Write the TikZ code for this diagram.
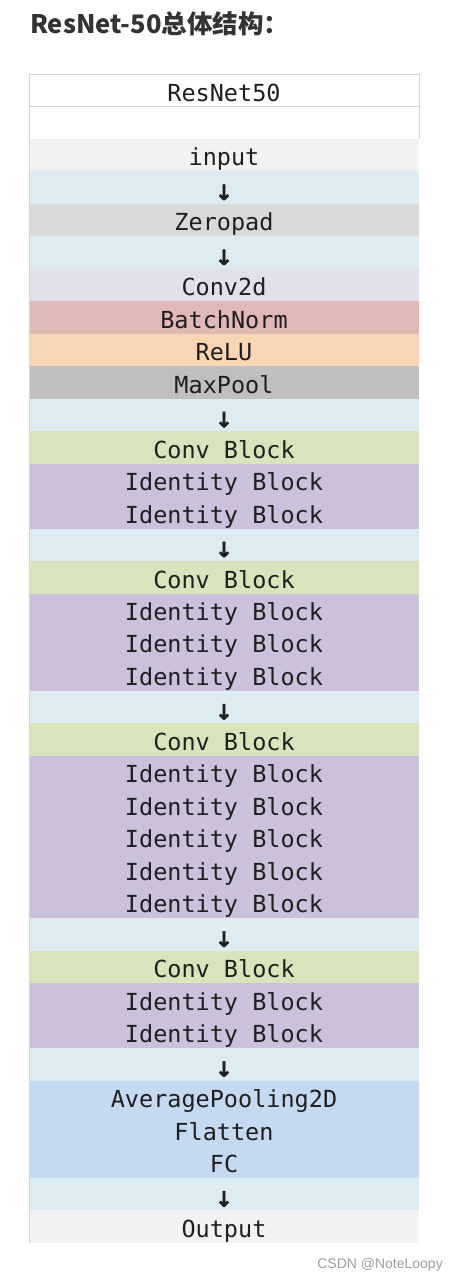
\documentclass[tikz,border=0pt]{standalone}
\usepackage{fontspec}
\setmonofont{DejaVu Sans Mono}
\newfontfamily\titlefont{Noto Sans CJK SC}
\newfontfamily\markfont{Liberation Sans}
\newfontface\arrowfont{DejaVu Sans Bold}[FakeBold=2.5]
\definecolor{cgrid}{HTML}{D4D4D4}
\definecolor{cinput}{HTML}{F2F2F2}
\definecolor{carrow}{HTML}{DDEBF3}
\definecolor{czero}{HTML}{D9D9D9}
\definecolor{cconv}{HTML}{E4DFEC}
\definecolor{cbn}{HTML}{E2B8B6}
\definecolor{crelu}{HTML}{F9D5B4}
\definecolor{cpool}{HTML}{BFBFBF}
\definecolor{cblock}{HTML}{D8E4BC}
\definecolor{cident}{HTML}{CCC0DA}
\definecolor{chead}{HTML}{C5D9F1}
\newcommand{\dn}{{\arrowfont\fontsize{21}{21}\selectfont\raisebox{-1.5pt}{↓}}}
\begin{document}
\begin{tikzpicture}[x=1pt,y=-1pt,font=\ttfamily\fontsize{23.5}{23.5}\selectfont,
    cell/.style={anchor=north west,minimum width=390pt,minimum height=32.47pt,
      inner sep=0pt,outer sep=0pt,text height=27pt,text depth=5.47pt,text=black!88}]
    \useasboundingbox (0,0) rectangle (459,1280);
    \node[anchor=base west,inner sep=0pt,text=black!80,
      font=\titlefont\bfseries\fontsize{25.5}{25.5}\selectfont] (title) at (30,33) {ResNet-50总体结构：};
    % table rows, top to bottom
    \foreach \lab/\col [count=\i] in {ResNet50/white, /white, input/cinput, \dn/carrow,
        Zeropad/czero, \dn/carrow, Conv2d/cconv, BatchNorm/cbn, ReLU/crelu, MaxPool/cpool,
        \dn/carrow, Conv Block/cblock, Identity Block/cident, Identity Block/cident,
        \dn/carrow, Conv Block/cblock, Identity Block/cident, Identity Block/cident,
        Identity Block/cident, \dn/carrow, Conv Block/cblock, Identity Block/cident,
        Identity Block/cident, Identity Block/cident, Identity Block/cident,
        Identity Block/cident, \dn/carrow, Conv Block/cblock, Identity Block/cident,
        Identity Block/cident, \dn/carrow, AveragePooling2D/chead, Flatten/chead,
        FC/chead, \dn/carrow, Output/cinput}
      \node[cell,fill=\col] (r\i) at (29,{74+(\i-1)*32.47}) {\lab};
    \draw[cgrid,line width=1pt] (r1.north west) rectangle (r1.south east);
    \draw[cgrid,line width=1pt] (r2.south west) -- (r2.north west) -- (r2.north east) -- (r2.south east);
    \draw[cgrid,line width=0.8pt] (r2.south west) -- (r36.south west);
    \node[anchor=base east,inner sep=0pt,text=black!38,
      font=\markfont\fontsize{14}{14}\selectfont] (mark) at (443,1268) {CSDN @NoteLoopy};
\end{tikzpicture}
\end{document}
